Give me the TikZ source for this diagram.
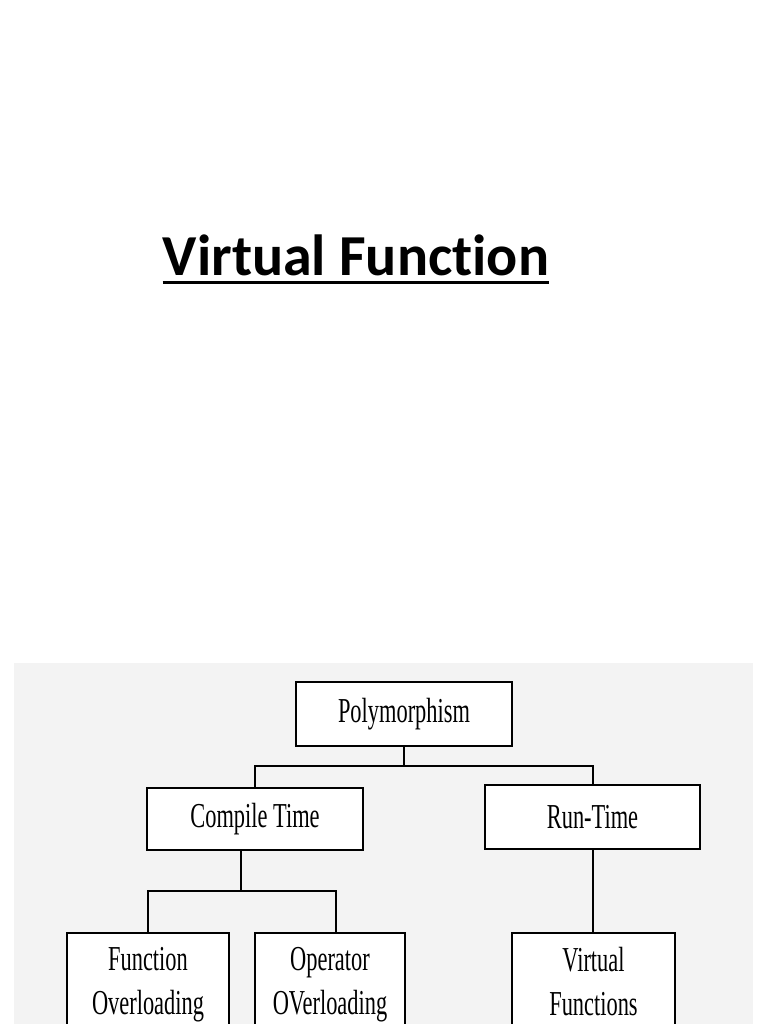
\documentclass[tikz,border=0pt]{standalone}
\usepackage{fontspec}
\newfontfamily\titlefont{Carlito}[Ligatures=NoCommon]
\newfontfamily\diagfont{Liberation Serif}[FakeStretch=0.64]
\definecolor{panel}{HTML}{F3F3F3}
\begin{document}
\begin{tikzpicture}[x=1pt,y=-1pt,
  box/.style={draw=black, line width=2.4pt, fill=white, inner sep=0pt, align=center,
    font=\diagfont\fontsize{35}{44}\selectfont},
  conn/.style={draw=black, line width=2pt}]
\useasboundingbox (0,0) rectangle (768,1024);
\clip (0,0) rectangle (768,1024);
\fill[panel] (14,663) rectangle (753,1030);
% title
\node[anchor=base, inner sep=0pt, font=\titlefont\bfseries\fontsize{58}{60}\selectfont] (title) at (356,275) {Virtual Function};
\draw[line width=3pt] ([yshift=-7pt]title.base west) -- ([yshift=-7pt]title.base east);
% boxes
\node[box, minimum width=216, minimum height=64] (poly) at (404,714) {Polymorphism};
\node[box, minimum width=216, minimum height=62] (comp) at (255,819) {Compile Time};
\node[box, minimum width=215, minimum height=64] (run) at (592.5,817) {Run-Time};
\node[box, minimum width=162, minimum height=104] (func) at (148,985) {Function\\Overloading};
\node[box, minimum width=150, minimum height=104] (oper) at (330,985) {Operator\\OVerloading};
\node[box, minimum width=163, minimum height=104] (virt) at (593.5,985) {Virtual\strut\\Functions\strut};
% connectors
\coordinate (bus1) at (404,766);
\coordinate (bus2) at (241,891);
\coordinate (opdrop) at (336,933);
\draw[conn] (poly.south) -- (bus1);
\draw[conn] (comp.north) |- (bus1) -| (run.north);
\draw[conn] (comp.south -| bus2) -- (bus2);
\draw[conn] (func.north) |- (bus2) -| (opdrop);
\draw[conn] (run.south) -- (run.south |- virt.north);
\end{tikzpicture}
\end{document}
